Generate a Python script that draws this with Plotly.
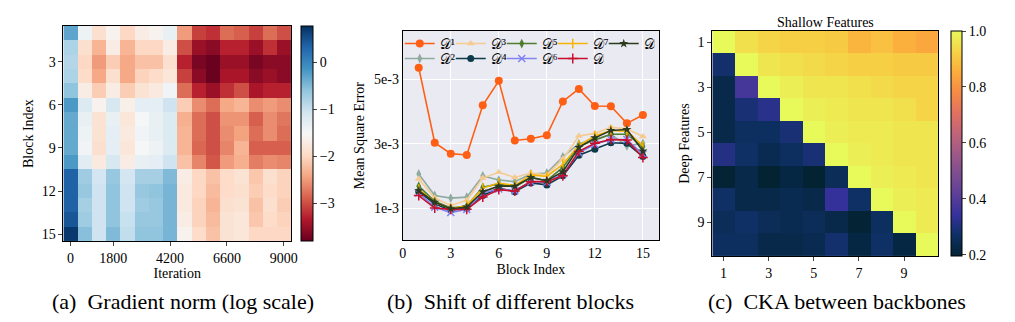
import plotly.graph_objects as go
import plotly.express as px

W, H = 1015, 322
OFF = 8  # page body margin in the browser
FONT = "Liberation Serif, Times New Roman, serif"

# (a) gradient norm (log10), rows = block 1..15, cols = iteration
iterations = list(range(0, 9001, 600))
blocks = list(range(1, 16))
grad_norm = [
    [-0.30, -1.40, -1.90, -1.60, -2.00, -1.70, -1.60, -1.35, -2.50, -3.10, -3.20, -2.80, -2.90, -3.10, -2.80, -3.00],
    [-0.80, -1.90, -2.30, -1.70, -2.30, -2.00, -2.00, -1.70, -3.00, -3.50, -3.60, -3.30, -3.30, -3.50, -3.20, -3.50],
    [-0.85, -2.00, -2.50, -2.10, -2.40, -2.20, -2.20, -1.90, -3.30, -3.70, -3.80, -3.50, -3.50, -3.70, -3.60, -3.60],
    [-0.80, -1.95, -2.40, -1.90, -2.40, -2.05, -1.95, -1.80, -3.10, -3.60, -3.80, -3.40, -3.40, -3.60, -3.50, -3.60],
    [-0.60, -1.70, -2.10, -1.70, -2.10, -1.85, -1.75, -1.45, -2.80, -3.30, -3.50, -3.20, -3.00, -3.40, -3.30, -3.30],
    [-0.20, -1.20, -1.60, -1.15, -1.65, -1.30, -1.30, -1.05, -2.10, -2.60, -2.80, -2.40, -2.30, -2.60, -2.50, -2.60],
    [-0.35, -1.35, -1.85, -1.35, -1.80, -1.50, -1.35, -1.20, -2.35, -2.80, -3.00, -2.55, -2.55, -2.90, -2.60, -2.75],
    [-0.35, -1.40, -1.85, -1.30, -1.75, -1.45, -1.35, -1.20, -2.30, -2.80, -3.00, -2.60, -2.45, -2.80, -2.60, -2.80],
    [-0.35, -1.45, -1.90, -1.30, -1.80, -1.50, -1.40, -1.20, -2.30, -2.85, -3.00, -2.65, -2.30, -2.90, -2.90, -2.90],
    [-0.20, -1.25, -1.75, -1.15, -1.70, -1.35, -1.30, -1.05, -2.20, -2.65, -2.95, -2.50, -2.35, -2.70, -2.60, -2.65],
    [0.35, -0.70, -1.10, -0.65, -1.10, -0.75, -0.75, -0.50, -1.70, -2.00, -2.20, -1.95, -1.85, -2.15, -1.90, -2.05],
    [0.35, -0.65, -1.05, -0.60, -1.05, -0.65, -0.60, -0.45, -1.75, -2.00, -2.25, -1.95, -1.90, -2.10, -1.95, -2.05],
    [0.35, -0.75, -1.05, -0.60, -1.05, -0.70, -0.65, -0.45, -1.75, -2.05, -2.30, -1.90, -1.85, -2.20, -1.90, -2.10],
    [0.45, -0.70, -1.05, -0.60, -1.00, -0.65, -0.65, -0.45, -1.70, -2.05, -2.25, -1.85, -1.80, -2.15, -1.95, -2.05],
    [0.70, -0.55, -1.05, -0.50, -0.95, -0.60, -0.60, -0.45, -1.60, -1.95, -2.20, -1.85, -1.80, -2.00, -2.00, -2.00],
]

# (b) shift of different blocks (MSE, x1e-3)
block_idx = list(range(1, 16))
d1 = [5.36, 3.03, 2.69, 2.65, 4.19, 4.95, 3.10, 3.15, 3.26, 4.31, 4.70, 4.17, 4.16, 3.63, 3.89]
d2 = [2.06, 1.39, 1.31, 1.34, 2.00, 1.87, 1.82, 2.06, 2.09, 2.59, 3.00, 3.13, 3.29, 2.93, 3.01]
d3 = [1.90, 1.31, 1.08, 1.24, 1.93, 2.11, 1.95, 2.09, 2.03, 2.52, 3.24, 3.32, 3.51, 3.46, 3.22]
d4 = [1.51, 1.13, 0.93, 1.00, 1.39, 1.62, 1.51, 1.78, 1.72, 2.00, 2.64, 2.83, 3.03, 3.01, 2.60]
d5 = [1.68, 1.21, 1.00, 1.06, 1.65, 1.75, 1.65, 1.95, 1.85, 2.26, 2.93, 3.11, 3.29, 3.29, 2.91]
d6 = [1.47, 1.03, 0.86, 0.96, 1.47, 1.59, 1.54, 1.82, 1.80, 2.06, 2.72, 2.98, 3.13, 3.13, 2.67]
d7 = [1.59, 1.18, 0.98, 1.08, 1.62, 1.78, 1.70, 2.03, 1.98, 2.36, 2.95, 3.24, 3.41, 3.39, 2.93]
d8 = [1.39, 1.00, 0.96, 0.96, 1.34, 1.57, 1.53, 1.82, 1.82, 2.00, 2.76, 3.01, 3.13, 3.11, 2.57]
d9 = [1.54, 1.18, 0.98, 1.03, 1.51, 1.68, 1.68, 1.95, 1.85, 2.13, 2.88, 3.18, 3.41, 3.44, 2.77]
series_names = ["𝒟¹", "𝒟²", "𝒟³", "𝒟⁴", "𝒟⁵", "𝒟⁶", "𝒟⁷", "𝒟⁸", "𝒟⁹"]
series_vals = [d1, d2, d3, d4, d5, d6, d7, d8, d9]
series_colors = ["#FF5F14", "#8FAA9E", "#F5CB92", "#0E3B4C", "#4F7D2E",
                 "#8383F2", "#F5B400", "#C8102E", "#2C3A1E"]
series_symbols = ["circle", "diamond-tall", "triangle-up", "circle", "diamond-tall",
                  "x-thin", "line-ns", "cross-thin", "star"]

# (c) CKA between backbones
cka_idx = list(range(1, 11))
cka = [
    [1.00, 0.95, 0.93, 0.92, 0.92, 0.91, 0.87, 0.89, 0.86, 0.84],
    [0.28, 1.00, 0.96, 0.95, 0.94, 0.93, 0.92, 0.92, 0.91, 0.91],
    [0.23, 0.37, 1.00, 0.98, 0.96, 0.96, 0.95, 0.94, 0.93, 0.93],
    [0.23, 0.29, 0.32, 1.00, 0.98, 0.97, 0.96, 0.96, 0.95, 0.93],
    [0.23, 0.26, 0.26, 0.29, 1.00, 0.98, 0.97, 0.97, 0.96, 0.96],
    [0.31, 0.27, 0.24, 0.26, 0.29, 1.00, 0.98, 0.97, 0.96, 0.96],
    [0.20, 0.23, 0.195, 0.22, 0.19, 0.25, 1.00, 0.98, 0.97, 0.96],
    [0.27, 0.23, 0.23, 0.24, 0.23, 0.34, 0.27, 1.00, 0.98, 0.97],
    [0.25, 0.27, 0.25, 0.24, 0.25, 0.23, 0.20, 0.26, 1.00, 0.97],
    [0.26, 0.26, 0.23, 0.23, 0.24, 0.28, 0.22, 0.27, 0.22, 1.00],
]


def fx(p):
    return (p - OFF) / W


def fy(p):
    return 1 - (p - OFF) / H


fig = go.Figure()

fig.add_trace(go.Heatmap(
    z=grad_norm, x=iterations, y=blocks, colorscale=px.colors.diverging.RdBu,
    zmin=-3.81, zmax=0.77, xaxis="x", yaxis="y",
    colorbar=dict(x=fx(300), xanchor="left", xpad=0, ypad=0, thickness=12,
                  len=216 / H, y=fy(134), yanchor="middle",
                  outlinecolor="black", outlinewidth=1,
                  tickvals=[0, -1, -2, -3], ticks="outside", ticklen=4,
                  tickfont=dict(size=14)),
))

for i, (name, vals, col, sym) in enumerate(zip(series_names, series_vals, series_colors, series_symbols)):
    thin = sym in ("x-thin", "line-ns", "cross-thin")
    fig.add_trace(go.Scatter(
        x=block_idx, y=[v * 1e-3 for v in vals], name=name, mode="lines+markers",
        xaxis="x2", yaxis="y2",
        line=dict(color=col, width=1.6),
        marker=dict(symbol=sym, color=col, size=8 if i == 0 else 7,
                    line=dict(color=col, width=1.5 if thin else 0)),
        legend="legend" if i % 2 == 0 else "legend2",
    ))

fig.add_trace(go.Heatmap(
    z=cka, x=cka_idx, y=cka_idx, colorscale="thermal", zmin=0.195, zmax=1.0,
    xaxis="x3", yaxis="y3",
    colorbar=dict(x=fx(957), xanchor="left", xpad=0, ypad=0, thickness=11,
                  len=226 / H, y=fy(144), yanchor="middle",
                  outlinecolor="black", outlinewidth=1,
                  tickvals=[0.2, 0.4, 0.6, 0.8, 1.0], tickformat=".1f",
                  ticks="outside", ticklen=4, tickfont=dict(size=14)),
))

frame = dict(showline=True, linecolor="black", linewidth=1, mirror=True,
             showgrid=False, zeroline=False, tickfont=dict(size=14),
             title_font=dict(size=14))
grid = dict(showline=True, linecolor="black", linewidth=1, mirror=True,
            showgrid=True, gridcolor="white", gridwidth=1.2, zeroline=False,
            tickfont=dict(size=14), title_font=dict(size=14))
leg = dict(orientation="h", x=fx(400), xanchor="left", yanchor="top",
           entrywidth=6, itemwidth=30, bgcolor="rgba(0,0,0,0)",
           font=dict(size=14), tracegroupgap=0)

fig.update_layout(
    width=W, height=H, margin=dict(l=0, r=0, t=0, b=0),
    paper_bgcolor="white", plot_bgcolor="#EAEAF2",
    font=dict(family=FONT, color="black", size=14),
    xaxis=dict(domain=[fx(60), fx(290)], anchor="y", tickvals=[0, 1800, 4200, 6600, 9000],
               ticks="outside", ticklen=4, title=dict(text="Iteration", standoff=2), **frame),
    yaxis=dict(domain=[fy(242), fy(26)], anchor="x", autorange="reversed",
               tickvals=[3, 6, 9, 12, 15], ticks="outside", ticklen=4,
               title=dict(text="Block Index", standoff=4), **frame),
    xaxis2=dict(domain=[fx(403), fx(662)], anchor="y2", range=[0, 16],
                tickvals=[0, 3, 6, 9, 12, 15],
                title=dict(text="Block Index", standoff=4), **grid),
    yaxis2=dict(domain=[fy(241), fy(31)], anchor="x2", range=[0, 6.5e-3],
                tickvals=[1e-3, 3e-3, 5e-3], ticktext=["1e-3", "3e-3", "5e-3"],
                title=dict(text="Mean Square Error", standoff=6), **grid),
    xaxis3=dict(domain=[fx(716), fx(944)], anchor="y3", tickvals=[1, 3, 5, 7, 9],
                ticks="outside", ticklen=4, **frame),
    yaxis3=dict(domain=[fy(257), fy(31)], anchor="x3", autorange="reversed",
                tickvals=[1, 3, 5, 7, 9], ticks="outside", ticklen=4,
                title=dict(text="Deep Features", standoff=4), **frame),
    legend=dict(y=fy(28), **leg),
    legend2=dict(y=fy(43), **leg),
    showlegend=True,
)

captions = [("(a)\u2002Gradient norm (log scale)", 181),
            ("(b)\u2002Shift of different blocks", 512),
            ("(c)\u2002CKA between backbones", 842)]
for text, cx in captions:
    fig.add_annotation(text=text, x=fx(cx), y=fy(302), xref="paper", yref="paper",
                       showarrow=False, xanchor="center", yanchor="middle",
                       font=dict(size=22, family=FONT))
fig.add_annotation(text="Shallow Features", x=fx(830), y=fy(23), xref="paper", yref="paper",
                   showarrow=False, xanchor="center", yanchor="middle", font=dict(size=14))

fig.write_html("out.html")
